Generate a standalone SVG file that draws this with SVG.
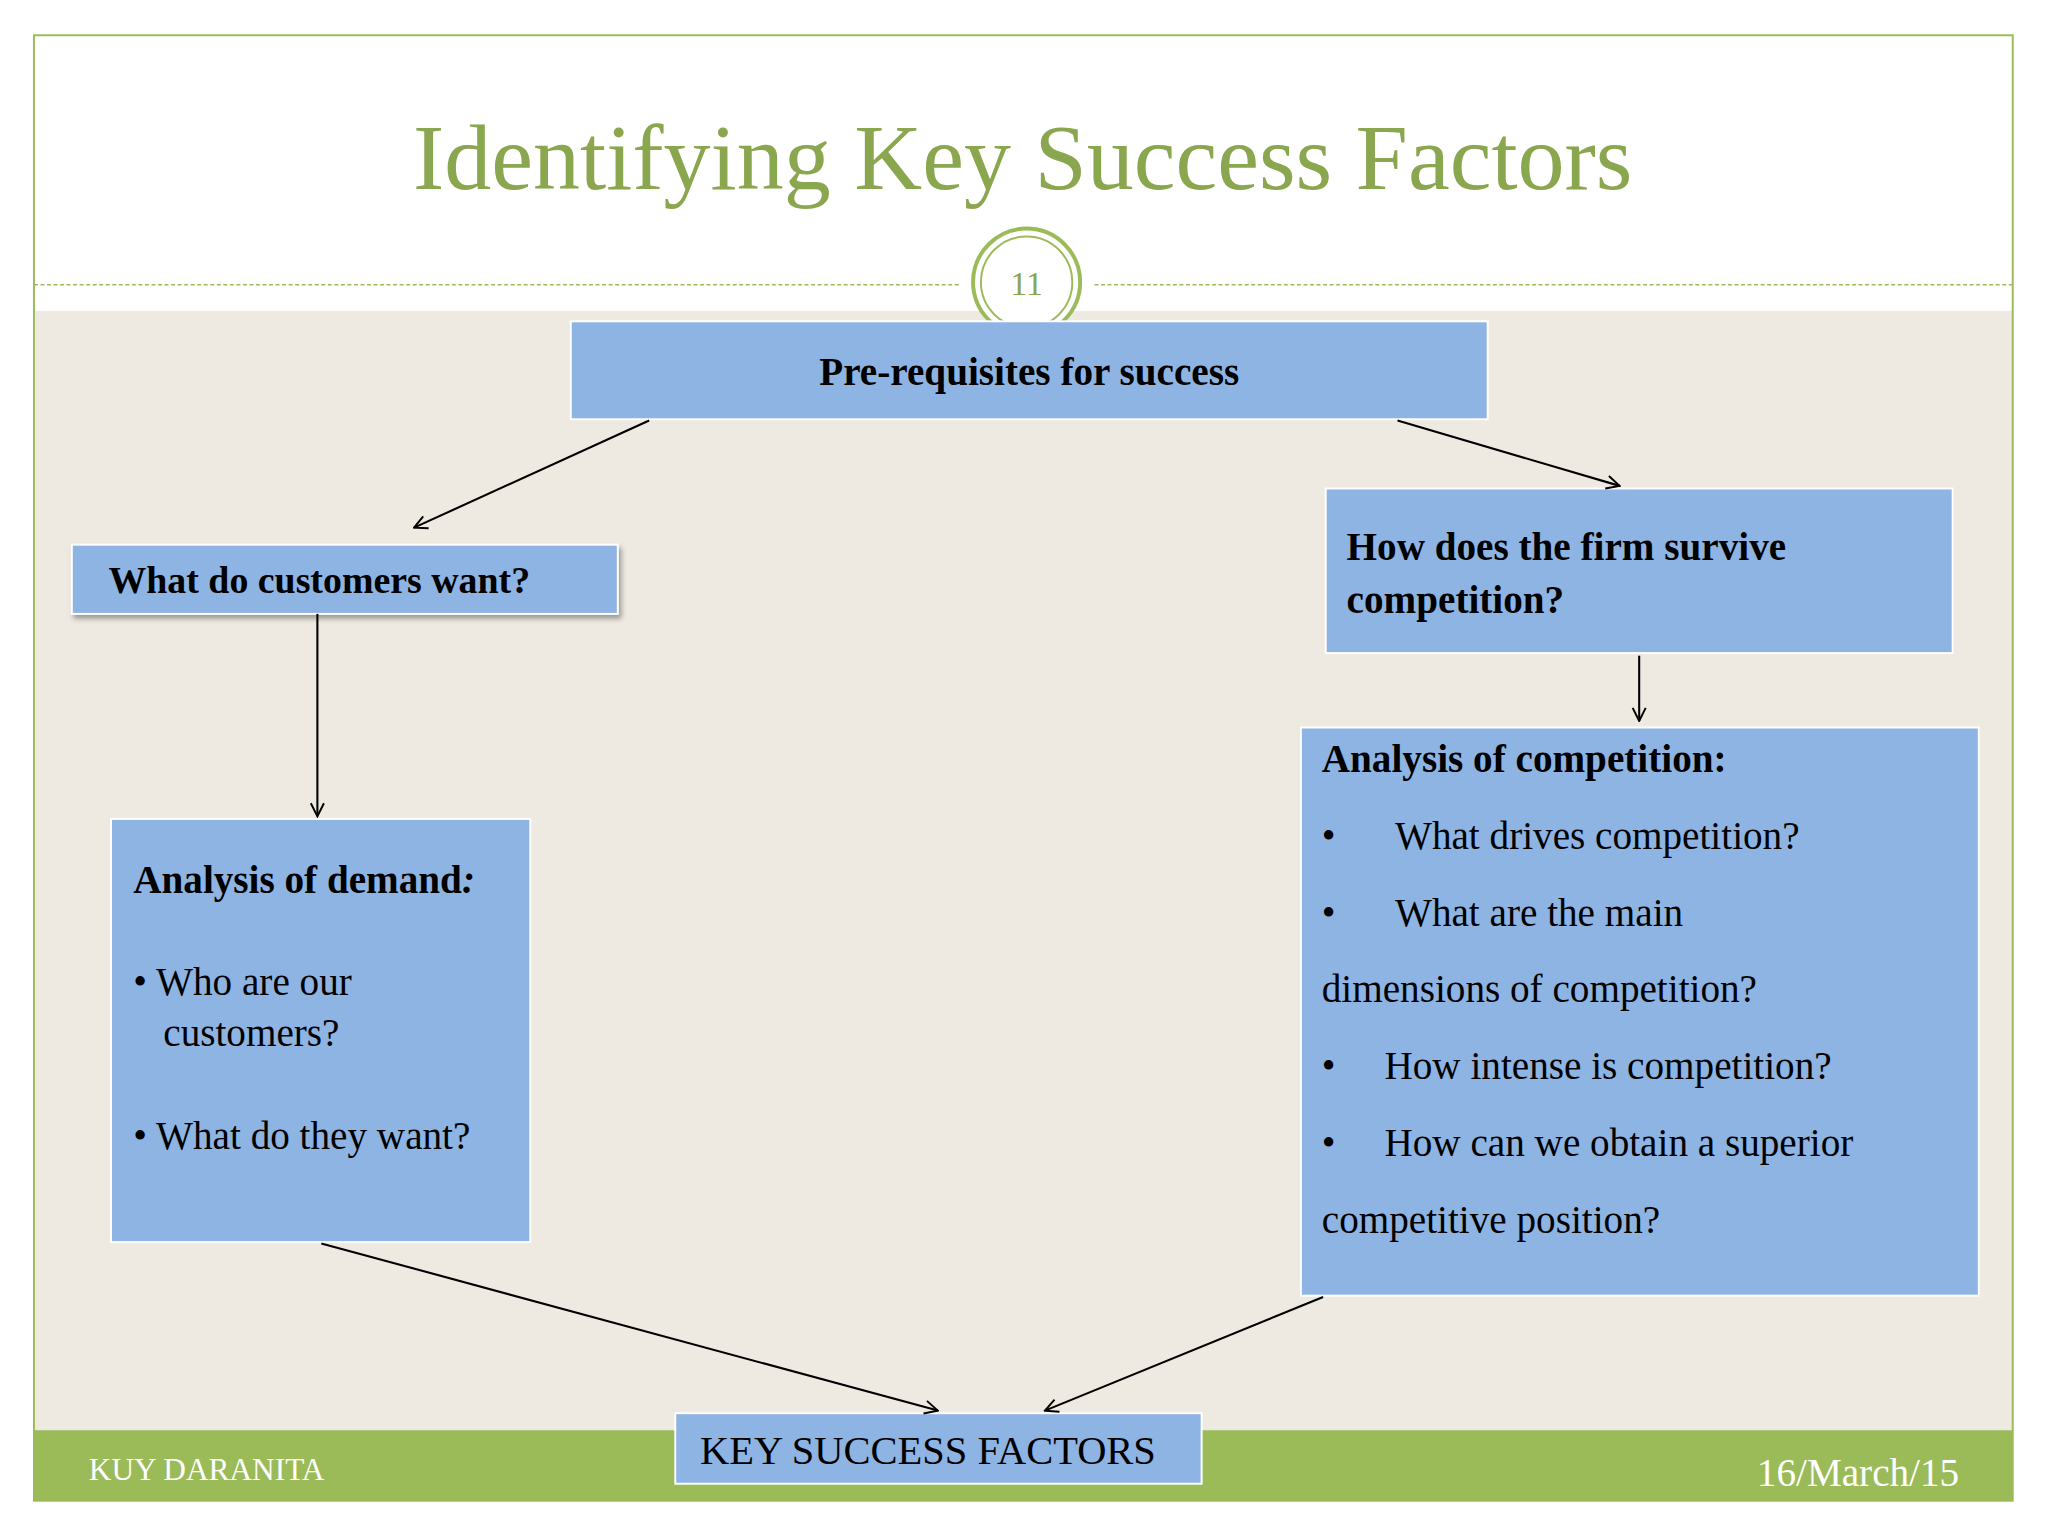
<svg xmlns="http://www.w3.org/2000/svg" width="2048" height="1536" viewBox="0 0 2048 1536">
<defs>
<style>
.box{fill:#8EB4E3;stroke:#fff;stroke-width:1.5}
.t{font-family:"Liberation Serif",serif;fill:#000}
.b{font-weight:bold}
.c{stroke:#000;stroke-width:1.6;fill:none;marker-end:url(#ar)}
</style>
<marker id="ar" viewBox="0 0 12 12" refX="11" refY="6" markerWidth="12" markerHeight="12" markerUnits="userSpaceOnUse" orient="auto"><path d="M1,1 L11,6 L1,11" fill="none" stroke="#000" stroke-width="1.5"/></marker>
<filter id="sh" x="-10%" y="-20%" width="130%" height="160%"><feDropShadow dx="2" dy="3" stdDeviation="2" flood-color="#000" flood-opacity="0.35"/></filter>
</defs>
<rect width="2048" height="1536" fill="#fff"/>
<g transform="scale(1.30612)">
<rect x="26" y="238" width="1515" height="857" fill="#EEEAE1"/>
<rect x="26" y="1095" width="1515" height="54" fill="#9BBB59"/>
<rect x="26" y="27" width="1515" height="1122" fill="none" stroke="#9BBB59" stroke-width="1.5"/>
<text x="783" y="145" text-anchor="middle" font-family="Liberation Serif,serif" font-size="72" fill="#8AA64E">Identifying Key Success Factors</text>
<line x1="26" y1="218" x2="735" y2="218" stroke="#9BBB59" stroke-dasharray="3,2"/>
<line x1="838" y1="218" x2="1541" y2="218" stroke="#9BBB59" stroke-dasharray="3,2"/>
<circle cx="786" cy="216" r="41" fill="#fff" stroke="#9BBB59" stroke-width="3"/>
<circle cx="786" cy="216" r="35" fill="#fff" stroke="#9BBB59" stroke-width="1.5"/>
<text x="786" y="226" text-anchor="middle" font-family="Liberation Serif,serif" font-size="26" fill="#8AA64E">11</text>
<g id="pre"><rect class="box" x="437" y="246" width="702" height="75"/><text class="t b" x="788" y="295" text-anchor="middle" font-size="30">Pre-requisites for success</text></g>
<g id="cust"><rect class="box" x="55" y="417" width="418" height="53" filter="url(#sh)"/><text class="t b" x="83" y="454" font-size="29">What do customers want?</text></g>
<g id="surv"><rect class="box" x="1015" y="374" width="480" height="126"/><text class="t b" font-size="30"><tspan x="1031" y="429">How does the firm survive</tspan><tspan x="1031" y="469">competition?</tspan></text></g>
<g id="demand"><rect class="box" x="85" y="627" width="321" height="324"/><text class="t" font-size="30"><tspan class="b" x="102" y="684">Analysis of demand<tspan font-style="italic">:</tspan></tspan><tspan x="102" y="762">• Who are our</tspan><tspan x="125" y="801">customers?</tspan><tspan x="102" y="880">• What do they want?</tspan></text></g>
<g id="comp"><rect class="box" x="996" y="557" width="519" height="435"/><text class="t" font-size="30"><tspan class="b" x="1012" y="591">Analysis of competition:</tspan><tspan x="1012" y="650">•</tspan><tspan x="1068" y="650">What drives competition?</tspan><tspan x="1012" y="709">•</tspan><tspan x="1068" y="709">What are the main</tspan><tspan x="1012" y="767">dimensions of competition?</tspan><tspan x="1012" y="826">•</tspan><tspan x="1060" y="826">How intense is competition?</tspan><tspan x="1012" y="885">•</tspan><tspan x="1060" y="885">How can we obtain a superior</tspan><tspan x="1012" y="944">competitive position?</tspan></text></g>
<g id="ksf"><rect class="box" x="517" y="1082" width="403" height="54"/><text class="t" x="536" y="1121" font-size="31">KEY SUCCESS FACTORS</text></g>
<g id="connectors">
<line class="c" x1="497" y1="322" x2="317" y2="404"/>
<line class="c" x1="1070" y1="322" x2="1240" y2="372"/>
<line class="c" x1="243" y1="470" x2="243" y2="625"/>
<line class="c" x1="1255" y1="502" x2="1255" y2="552"/>
<line class="c" x1="246" y1="952" x2="718" y2="1080"/>
<line class="c" x1="1013" y1="993" x2="800" y2="1080"/>
</g>
<text x="68" y="1133" font-family="Liberation Serif,serif" font-size="24" fill="#fff">KUY DARANITA</text>
<text x="1500" y="1138" text-anchor="end" font-family="Liberation Serif,serif" font-size="30" fill="#fff">16/March/15</text>
</g>
</svg>
